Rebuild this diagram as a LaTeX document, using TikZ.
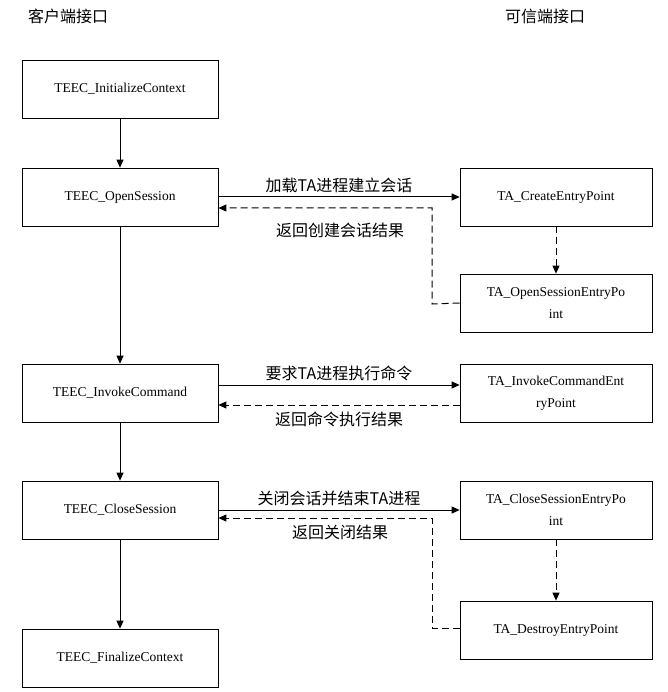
\documentclass[tikz,border=0pt]{standalone}
\usepackage{fontspec}
\setmainfont{Liberation Serif}
\newfontfamily\cjk{Noto Sans CJK SC}
\usetikzlibrary{arrows.meta}
\begin{document}
\begin{tikzpicture}[x=1pt,y=-1pt,
  box/.style={draw,line width=0.7pt,minimum width=196pt,minimum height=58pt,font=\fontsize{13.5}{15}\selectfont,align=center},
  rbox/.style={draw,line width=0.7pt,minimum width=192pt,minimum height=58pt,text width=180pt,font=\fontsize{13.5}{22}\selectfont,align=center},
  arr/.style={-{Triangle[length=8pt,width=7pt]},line width=1pt},
  darr/.style={arr,dash pattern=on 7pt off 4pt},
  lab/.style={font=\cjk\fontsize{16}{18}\selectfont}]
\useasboundingbox (0,0) rectangle (667,692);
\node[lab] (h1) at (68,16) {客户端接口};
\node[lab] (h2) at (545,16) {可信端接口};
\node[box] (a1) at (120,89) {TEEC\_InitializeContext};
\node[box] (a2) at (120,197) {TEEC\_OpenSession};
\node[box] (a3) at (120,393) {TEEC\_InvokeCommand};
\node[box] (a4) at (120,510) {TEEC\_CloseSession};
\node[box] (a5) at (120,658) {TEEC\_FinalizeContext};
\node[rbox] (b1) at (556,197) {TA\_CreateEntryPoint};
\node[rbox] (b2) at (556,303) {TA\_OpenSessionEntryPo\\int};
\node[rbox] (b3) at (556,393) {TA\_InvokeCommandEnt\\ryPoint};
\node[rbox] (b4) at (556,510) {TA\_CloseSessionEntryPo\\int};
\node[rbox] (b5) at (556,630) {TA\_DestroyEntryPoint};
\draw[arr] (a1) -- (a2);
\draw[arr] (a2) -- (a3);
\draw[arr] (a3) -- (a4);
\draw[arr] (a4) -- (a5);
\draw[arr] (a2.east) -- node[lab,above]{加载TA进程建立会话} (b1.west);
\draw[darr] (b1) -- (b2);
\coordinate (c1) at (432,304);
\coordinate (c2) at (432,208);
\draw[darr] (b2.west) -- (c1) -- (c2) -- (a2.east |- c2);
\node[lab] (l1) at (340,230) {返回创建会话结果};
\draw[arr] (a3.east |- 0,385) -- node[lab,above]{要求TA进程执行命令} (b3.west |- 0,385);
\draw[darr] (b3.west |- 0,405) -- node[lab,below=3pt]{返回命令执行结果} (a3.east |- 0,405);
\draw[arr] (a4.east |- 0,510) -- node[lab,above]{关闭会话并结束TA进程} (b4.west |- 0,510);
\draw[darr] (b4) -- (b5);
\coordinate (c3) at (432,628);
\coordinate (c4) at (432,518);
\draw[darr] (b5.west |- c3) -- (c3) -- (c4) -- (a4.east |- c4);
\node[lab] (l2) at (340,532) {返回关闭结果};
\end{tikzpicture}
\end{document}
